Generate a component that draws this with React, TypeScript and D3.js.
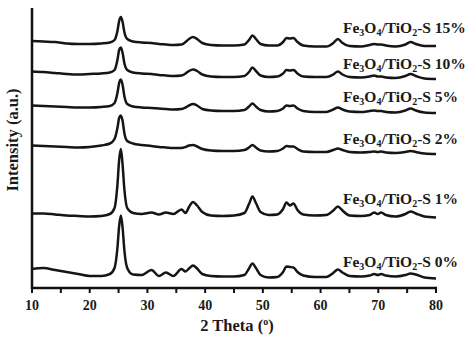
import React from "react";
import * as d3 from "d3";

// 2θ sample positions (degrees)
const theta = [10, 12, 14, 16, 18, 20, 22, 23.5, 24.3, 24.8, 25.1, 25.4, 25.7, 26.0, 26.5, 27.5, 29, 30.7, 32, 33.2, 34.5, 35.9, 36.6, 37.2, 37.9, 38.6, 39.5, 41, 43, 45, 46.8, 47.6, 48.2, 48.8, 49.6, 51, 52.5, 53.5, 54.1, 54.7, 55.3, 56.0, 57, 59, 61, 62.2, 63.0, 63.8, 65, 67, 68.5, 69.3, 69.9, 70.5, 71.3, 73, 74.7, 75.6, 76.5, 78, 80];

// stacked intensities (a.u.), one array per sample
const s15 = [247, 246.5, 246, 244.5, 244, 244, 244.5, 245.5, 248, 257, 267, 271, 266, 256, 249, 246.5, 245.5, 245, 244, 243.5, 243, 243.5, 246, 249, 251, 249, 245, 243, 242.5, 242.5, 243.5, 248, 252.5, 249, 244, 242.5, 242.5, 246, 250, 249.5, 250, 246, 242.5, 241.5, 241.5, 245, 249, 245, 242, 241.5, 243, 244, 243.5, 243.5, 242.5, 241.5, 243.5, 246, 244, 242, 242];
const s10 = [216.5, 216, 215, 214, 213.5, 214, 214.5, 215.5, 218, 228, 238, 240.5, 235, 225, 218, 215.5, 214.5, 214, 213, 212.5, 212, 212.5, 214.5, 217, 218.5, 217, 213.5, 211.5, 211, 211, 212, 216, 220.5, 217, 212.5, 211, 211.5, 214.5, 218, 217.5, 218, 214.5, 211.5, 211, 211, 213.5, 216.5, 213.5, 211, 210.5, 211.5, 212.5, 211.5, 211.5, 210.5, 210, 212, 214, 212, 209.5, 209];
const s5 = [182.5, 182, 181.5, 181, 180.5, 180.5, 181, 182, 185, 195, 205, 208.5, 203, 192, 184, 181.5, 180.5, 180, 179.5, 179, 178.5, 179, 180.5, 182.5, 184, 182.5, 179, 177.5, 177, 177, 178, 181.5, 184.5, 181.5, 178, 176.5, 177, 179.5, 182.5, 182, 182.5, 179.5, 177, 176, 176, 178.5, 180.5, 178.5, 176.5, 176, 177, 177.5, 177, 177, 176, 175.5, 177.5, 179.5, 177.5, 175.5, 175];
const s2 = [142.5, 142, 141.5, 141, 140.5, 141, 142.5, 144.5, 149, 160, 170, 172.5, 167, 155, 147, 144.5, 143, 142, 141, 140.5, 140, 140, 141, 142.5, 143, 141.5, 139, 137.5, 137, 137, 138, 140.5, 143, 140.5, 137.5, 136.5, 137, 139.5, 142, 141.5, 141.5, 139, 136.5, 136, 136, 138, 139.5, 138, 136, 135.5, 136, 136.5, 136, 136.5, 135.5, 135, 136, 137, 136, 134.5, 134];
const s1 = [74.5, 74.5, 73.5, 72.5, 72, 71.5, 72, 74, 80, 103, 128, 139, 123, 99, 80, 75, 74, 75.5, 73.5, 75.5, 74, 78.5, 75, 81, 86, 82.5, 76, 72.5, 72, 72.5, 75, 84, 91.5, 85, 76, 73, 73.5, 79, 85.5, 82.5, 84.5, 78, 73.5, 72.5, 73, 77.5, 81.5, 77.5, 72.5, 72, 73, 75.5, 74, 75.5, 73, 71.5, 74, 76.5, 74.5, 71.5, 70.5];
const s0 = [19, 20, 18, 16, 14, 12, 12, 14, 20, 40, 62, 72.5, 60, 38, 20, 13.5, 13, 18, 12, 15.5, 12, 19, 16.5, 19.5, 22.5, 19.5, 14, 12, 11.5, 11.5, 13, 19.5, 24.5, 20, 13, 10.5, 11, 16, 21.5, 21, 20.5, 16, 12.5, 11, 11, 15, 18.5, 15.5, 12, 11.5, 12.5, 14, 13, 14, 12.5, 11.5, 13, 14.5, 13.5, 10.5, 9.5];

const seriesValues = [s15, s10, s5, s2, s1, s0];
const seriesPercent = ["15%", "10%", "5%", "2%", "1%", "0%"];

const xTicksMajor = [10, 20, 30, 40, 50, 60, 70, 80];
const xTicksMinor = [15, 25, 35, 45, 55, 65, 75];

// layout
const W = 474;
const H = 339;
const left = 32;
const right = 436;
const top = 8;
const bottom = 288;
const labelX = 343;
const labelBaselines = [33, 68.5, 102, 143.5, 203.5, 267];

const FONT = "'Liberation Serif', 'Times New Roman', serif";

export default function App() {
  const x = d3.scaleLinear().domain([10, 80]).range([left, right]);
  const y = d3.scaleLinear().domain([0, 280]).range([bottom, top]);
  const line = d3
    .line<number>()
    .x((_, i) => x(theta[i]))
    .y((d) => y(d))
    .curve(d3.curveMonotoneX);

  return (
    <svg
      width={W}
      height={H}
      style={{ position: "absolute", left: 0, top: 0, background: "#fff" }}
      fontFamily={FONT}
    >
      {seriesValues.map((vals, i) => (
        <path
          key={i}
          d={line(vals) || ""}
          fill="none"
          stroke="#151515"
          strokeWidth={2.5}
          strokeLinejoin="round"
        />
      ))}

      {/* axes */}
      <line x1={left} x2={left} y1={top} y2={bottom + 1} stroke="#111" strokeWidth={2.5} />
      <line x1={left - 1} x2={right + 1} y1={bottom} y2={bottom} stroke="#111" strokeWidth={2.5} />
      {xTicksMajor.concat(xTicksMinor).map((t) => (
        <line key={t} x1={x(t)} x2={x(t)} y1={bottom} y2={bottom + 5} stroke="#111" strokeWidth={2} />
      ))}
      {xTicksMajor.map((t) => (
        <text
          key={t}
          x={x(t)}
          y={309.5}
          textAnchor="middle"
          fontSize={14}
          fontWeight="bold"
          fill="#1a1a1a"
        >
          {t}
        </text>
      ))}

      <text x={237} y={331} textAnchor="middle" fontSize={16.5} fontWeight="bold" fill="#1a1a1a">
        2 Theta (<tspan fontSize={10} dy={-6}>o</tspan>
        <tspan dy={6}>)</tspan>
      </text>

      <text
        transform={`translate(18,140) rotate(-90)`}
        textAnchor="middle"
        fontSize={16.5}
        fontWeight="bold"
        fill="#1a1a1a"
      >
        Intensity (a.u.)
      </text>

      {seriesPercent.map((p, i) => (
        <text key={p} x={labelX} y={labelBaselines[i]} fontSize={15.5} fontWeight="bold" fill="#1a1a1a">
          Fe<tspan fontSize={10} dy={3}>3</tspan>
          <tspan dy={-3}>O</tspan>
          <tspan fontSize={10} dy={3}>4</tspan>
          <tspan dy={-3}>/TiO</tspan>
          <tspan fontSize={10} dy={3}>2</tspan>
          <tspan dy={-3}>-S {p}</tspan>
        </text>
      ))}
    </svg>
  );
}
